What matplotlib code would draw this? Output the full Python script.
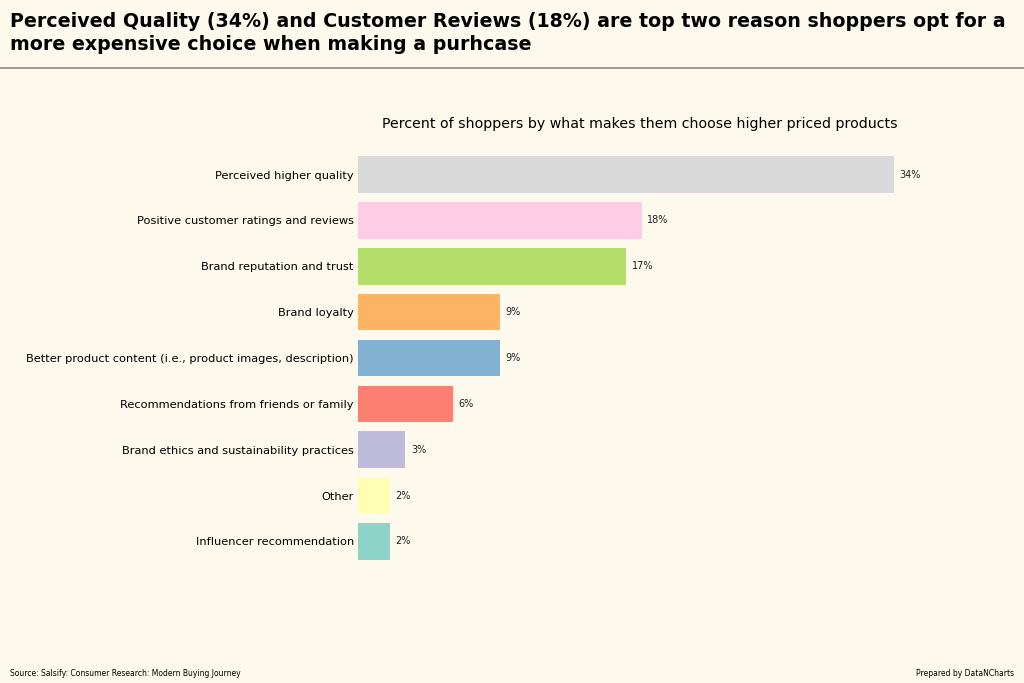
import matplotlib
matplotlib.use('Agg')
import matplotlib.pyplot as plt

reasons = ['Influencer recommendation', 'Other', 'Brand ethics and sustainability practices',
           'Recommendations from friends or family',
           'Better product content (i.e., product images, description)',
           'Brand loyalty', 'Brand reputation and trust',
           'Positive customer ratings and reviews', 'Perceived higher quality']
pct = [2, 2, 3, 6, 9, 9, 17, 18, 34]
colors = ['#8dd3c7', '#ffffb3', '#bebada', '#fb8072', '#80b1d3',
          '#fdb462', '#b3de69', '#fccde5', '#d9d9d9']

bg = '#fdf9ed'
fig = plt.figure(figsize=(10.24, 6.83), dpi=100, facecolor=bg)
ax = fig.add_axes([358/1024, 1 - 580/683, 563/1024, 444/683], facecolor=bg)

bars = ax.barh(reasons, pct, color=colors)
for b, v in zip(bars, pct):
    ax.text(b.get_width() + 0.35, b.get_y() + b.get_height()/2, f'{v}%',
            va='center', ha='left', fontsize=7, color='#222222')

ax.set_title('Percent of shoppers by what makes them choose higher priced products',
             fontsize=10.2, pad=6)
for s in ax.spines.values():
    s.set_visible(False)
ax.set_xticks([])
ax.tick_params(axis='y', length=0, labelsize=8.2, pad=3)

fig.text(10/1024, 1 - 12/683, 'Perceived Quality (34%) and Customer Reviews (18%) are top two reason shoppers opt for a\nmore expensive choice when making a purhcase',
         ha='left', va='top', fontsize=13.7, fontweight='bold', linespacing=1.25)
fig.add_artist(plt.Line2D([0, 1], [1 - 68/683, 1 - 68/683], color='#888888', lw=1.2))

fig.text(10/1024, 1 - 673/683, 'Source: Salsify: Consumer Research: Modern Buying Journey',
         ha='left', va='center', fontsize=5.5)
fig.text(1 - 10/1024, 1 - 673/683, 'Prepared by DataNCharts',
         ha='right', va='center', fontsize=5.5)

plt.savefig('out.png', dpi=100, facecolor=bg)
